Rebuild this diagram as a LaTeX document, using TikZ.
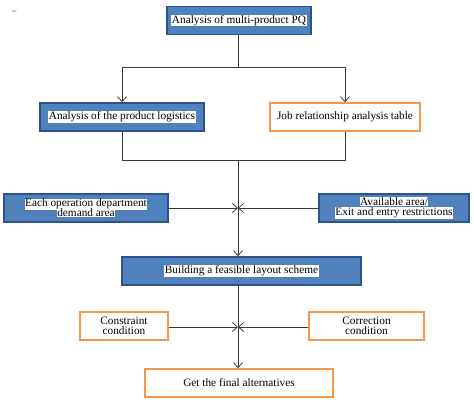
\documentclass[tikz,border=0pt]{standalone}
\usepackage{xcolor}
\usepackage{fontspec}
\setmainfont{Liberation Serif}
\newfontfamily\marksymfont{DejaVu Sans}
\usepackage{tikz}
\usetikzlibrary{calc}
\usetikzlibrary{arrows.meta}
\usetikzlibrary{positioning}

\definecolor{boxblue}{HTML}{4F81BD}
\definecolor{edgeblue}{HTML}{2F528F}
\definecolor{boxorange}{HTML}{F79646}
\definecolor{lineclr}{HTML}{383838}
\newcommand{\hilite}[1]{{\setlength{\fboxsep}{0.5pt}\colorbox{white}{#1}}}

\begin{document}
\begin{tikzpicture}[x=1pt, y=-1pt,
  font=\fontsize{11.3}{12}\selectfont,
  bluebox/.style={rectangle, fill=boxblue, draw=edgeblue, line width=1.6pt, minimum height=28pt, align=center, inner sep=1pt},
  orangebox/.style={rectangle, fill=white, draw=boxorange, line width=1.6pt, minimum height=28pt, align=center, inner sep=1pt},
  link/.style={draw=lineclr, line width=0.75pt},
  arr/.style={link, -{Straight Barb[length=5pt, width=9pt]}}]
\useasboundingbox (0, 0) rectangle (474, 404);
\node [text=gray, font=\marksymfont\fontsize{6}{6}\selectfont] (para) at (15, 12) {↵};
\node [bluebox, minimum width=144pt] (PQ) at (239, 20.5) {\hilite{Analysis of multi-product PQ}};
\node [bluebox, minimum width=164pt] (logistics) at (122, 117) {\hilite{Analysis of the product logistics}};
\node [orangebox, minimum width=150pt] (jobtable) at (345, 117) {Job relationship analysis table};
\node [bluebox, minimum width=164pt] (demand) at (86, 208) {\hilite{Each operation department}\\[-2pt]\hilite{demand area}};
\node [bluebox, minimum width=150pt] (avail) at (394, 208) {\hilite{Available area/}\\[-2pt]\hilite{Exit and entry restrictions}};
\node [bluebox, minimum width=239pt] (build) at (241.5, 271) {\hilite{Building a feasible layout scheme}};
\node [orangebox, minimum width=88pt] (constraint) at (124, 326) {Constraint\\[-2pt]condition};
\node [orangebox, minimum width=115pt] (correction) at (366.5, 326) {Correction\\[-2pt]condition};
\node [orangebox, minimum width=188pt] (final) at (239, 383) {Get the final alternatives};
\coordinate (split) at (238, 67);
\coordinate (merge) at (238, 160);
\coordinate (areas) at (238, 208);
\coordinate (conds) at (238, 327);
% top branch
\draw [link] (split |- PQ.south) -- (split);
\draw [arr] (split) -| (logistics.north);
\draw [arr] (split) -| (jobtable.north);
% merge into layout scheme
\draw [link] (logistics.south) -- (logistics.south |- merge) -- (jobtable.south |- merge) -- (jobtable.south);
\draw [arr] (merge) -- (merge |- build.north);
\draw [arr] (demand.east) -- (areas);
\draw [arr] (avail.west) -- (areas);
% conditions into final result
\draw [arr] (merge |- build.south) -- (merge |- final.north);
\draw [arr] (constraint.east |- conds) -- (conds);
\draw [arr] (correction.west |- conds) -- (conds);
\end{tikzpicture}
\end{document}
